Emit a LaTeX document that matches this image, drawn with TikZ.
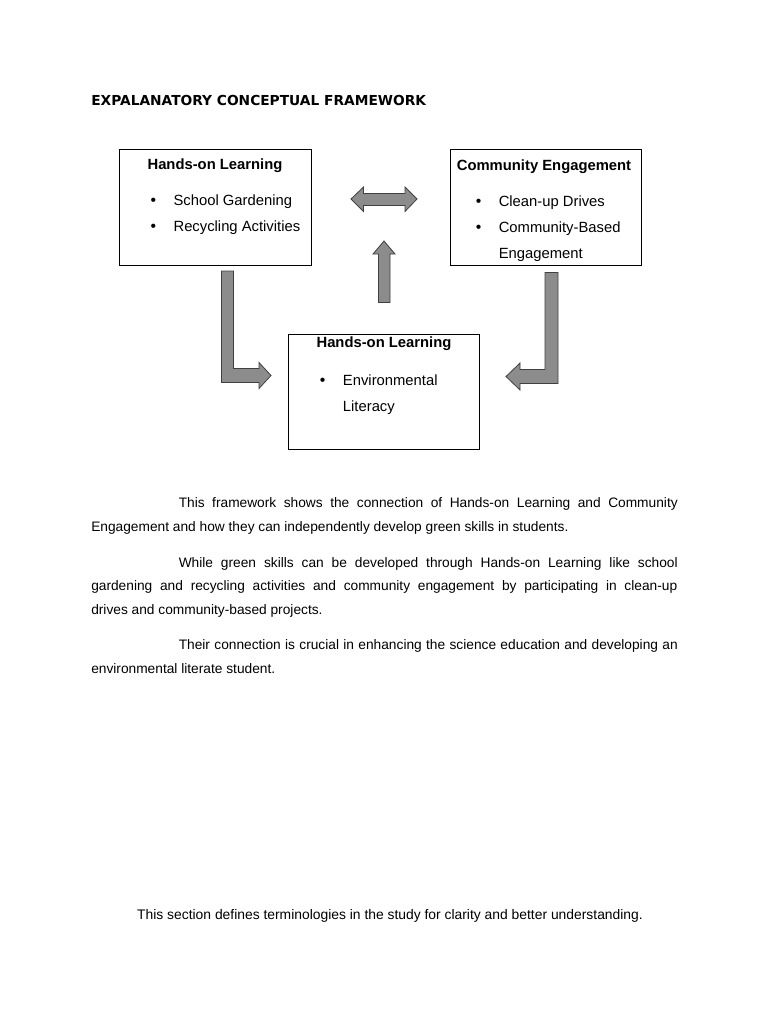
\documentclass[tikz,border=0pt]{standalone}
\usepackage{fontspec}
\setmainfont{Liberation Sans}
\newfontfamily\titlefont{DejaVu Sans}
\begin{document}
\begin{tikzpicture}[x=0.75pt,y=-0.75pt,
  box/.style={draw=black,line width=0.6pt,fill=white},
  blockarrow/.style={draw=black!75,line width=0.6pt,fill=black!45,line join=miter},
  boxtxt/.style={inner sep=0pt,anchor=base west,font=\fontsize{11.1}{13}\selectfont},
  boxtitle/.style={inner sep=0pt,anchor=base,font=\fontsize{11.1}{13}\selectfont\bfseries},
  bul/.style={inner sep=0pt,anchor=base,font=\fontsize{11.8}{13}\selectfont},
  para/.style={inner sep=0pt,anchor=base west,font=\fontsize{10.3}{18}\selectfont}
]
\useasboundingbox[fill=white] (0,0) rectangle (768,1024);

% title
\node[inner sep=0pt,anchor=base west,font=\titlefont\fontsize{10.32}{12}\selectfont\bfseries] (title) at (91,105) {EXPALANATORY CONCEPTUAL FRAMEWORK};

% boxes
\draw[box] (119.5,149) rectangle (311,265);
\node[inner sep=0pt,minimum width=0pt] (b1) at (215,207) {};
\draw[box] (450,149) rectangle (641,265);
\node[inner sep=0pt] (b2) at (545.5,207) {};
\draw[box] (288.5,334) rectangle (479.5,449.5);
\node[inner sep=0pt] (b3) at (384,392) {};

% box 1 text
\node[boxtitle] (b1t) at (215,169) {Hands-on Learning};
\node[bul] (b1b1) at (153.5,205) {\textbullet};
\node[boxtxt] (b1i1) at (173.3,205) {School Gardening};
\node[bul] (b1b2) at (153.5,231.5) {\textbullet};
\node[boxtxt] (b1i2) at (173.3,231.5) {Recycling Activities};

% box 2 text
\node[boxtitle] (b2t) at (544,170) {Community Engagement};
\node[bul] (b2b1) at (478.5,206.5) {\textbullet};
\node[boxtxt] (b2i1) at (498.5,206.5) {Clean-up Drives};
\node[bul] (b2b2) at (478.5,232.5) {\textbullet};
\node[boxtxt] (b2i2) at (498.5,232.5) {Community-Based};
\begin{scope}
\clip (451,240) rectangle (640,261.5);
\node[boxtxt] (b2i3) at (498.5,258) {Engagement};
\end{scope}

% box 3 text
\node[boxtitle] (b3t) at (384,347.5) {Hands-on Learning};
\node[bul] (b3b1) at (322.5,385) {\textbullet};
\node[boxtxt] (b3i1) at (342.7,385) {Environmental};
\node[boxtxt] (b3i2) at (342.7,411.5) {Literacy};

% block arrows
\draw[blockarrow] (351,199) -- (363.5,187) -- (363.5,193.5) -- (405,193.5) -- (405,187) -- (417,199)
  -- (405,211.5) -- (405,205.5) -- (363.5,205.5) -- (363.5,211.5) -- cycle;
\draw[blockarrow] (384,241) -- (395,254) -- (390,254) -- (390,302.5) -- (378.5,302.5) -- (378.5,254) -- (373,254) -- cycle;
\draw[blockarrow] (221.5,271) -- (233.5,271) -- (233.5,368.5) -- (259,368.5) -- (259,362.5) -- (271,375.5)
  -- (259,388.5) -- (259,382.5) -- (221.5,382.5) -- cycle;
\draw[blockarrow] (545,272.5) -- (558,272.5) -- (558,383.5) -- (520,383.5) -- (520,390) -- (506,376.5)
  -- (520,363) -- (520,369.5) -- (545,369.5) -- cycle;

% paragraphs
\node[para] (p1a) at (178.5,507.5) {\makebox[374.25pt][s]{This framework shows the connection of Hands-on Learning and Community}};
\node[para] (p1b) at (91,531.5) {Engagement and how they can independently develop green skills in students.};
\node[para] (p2a) at (178.5,567) {\makebox[374.25pt][s]{While green skills can be developed through Hands-on Learning like school}};
\node[para] (p2b) at (91,590.5) {\makebox[439.5pt][s]{gardening and recycling activities and community engagement by participating in clean-up}};
\node[para] (p2c) at (91,614.5) {drives and community-based projects.};
\node[para] (p3a) at (178.5,649.5) {\makebox[374.25pt][s]{Their connection is crucial in enhancing the science education and developing an}};
\node[para] (p3b) at (91,673.5) {environmental literate student.};

\node[para,anchor=base,font=\fontsize{10.4}{18}\selectfont] (p4) at (390,919) {This section defines terminologies in the study for clarity and better understanding.};
\end{tikzpicture}
\end{document}
